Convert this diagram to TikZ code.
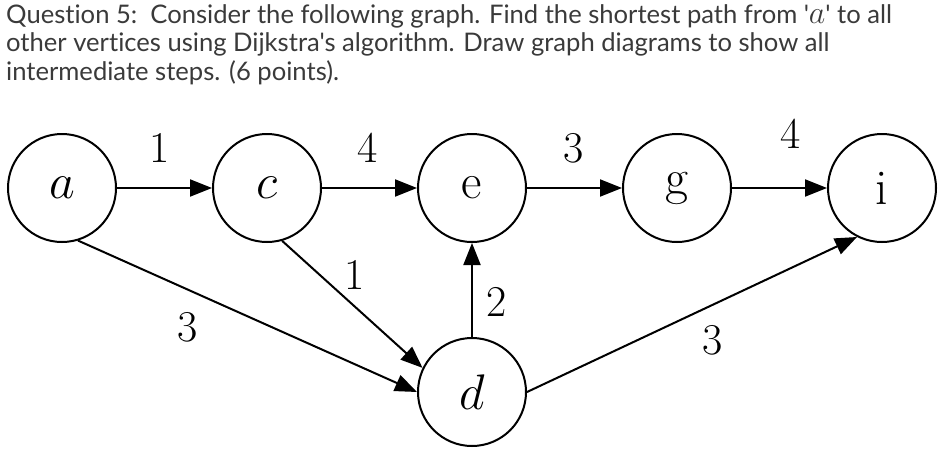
\RequirePackage{fix-cm}
\documentclass[tikz,border=0pt]{standalone}
\usepackage{fontspec}
\newfontfamily\lato[Ligatures={NoCommon}]{Lato}
\usetikzlibrary{arrows.meta}
\definecolor{hdr}{HTML}{3A3A3A}
\tikzset{
  vtx/.style={circle,draw,line width=2pt,minimum size=108pt,inner sep=0pt,font=\fontsize{50}{50}\selectfont},
  arr/.style={line width=2pt,-{Triangle[length=22pt,width=17pt]}},
  lbl/.style={inner sep=0pt,font=\fontsize{44}{44}\selectfont},
  hdrtext/.style={anchor=north west,inner sep=0pt,align=left,text=hdr,font=\lato\fontsize{25.6}{28.5}\selectfont}
}
\begin{document}
\begin{tikzpicture}[x=1pt,y=-1pt]
\useasboundingbox (0,0) rectangle (942,453);
\node[hdrtext] (q) at (6,4) {Question 5:\ \ Consider the following graph. Find the shortest path from '{\fontsize{32}{30}\selectfont$a$}' to all\\other vertices using Dijkstra's algorithm. Draw graph diagrams to show all\\intermediate steps. (6 points).};
\node[vtx] (a) at (62,188) {$a$};
\node[vtx] (c) at (267,188) {$c$};
\node[vtx] (e) at (472,188) {e};
\node[vtx] (g) at (677,188) {g};
\node[vtx] (i) at (882,188) {i};
\node[vtx] (d) at (472,392) {$d$};
\draw[arr] (a.east) -- (c.west);
\draw[arr] (c.east) -- (e.west);
\draw[arr] (e.east) -- (g.west);
\draw[arr] (g.east) -- (i.west);
\draw[arr] (a.-73) -- (d.west);
\draw[arr] (c.-74) -- (d.154);
\draw[arr] (d.north) -- (e.south);
\draw[arr] (d.east) -- (i.-117);
\node[lbl] (l1) at (160,148) {1};
\node[lbl] (l2) at (368,148) {4};
\node[lbl] (l3) at (574,148) {3};
\node[lbl] (l4) at (791,134) {4};
\node[lbl] (l5) at (355,275) {1};
\node[lbl] (l6) at (497,302) {2};
\node[lbl] (l7) at (188,327) {3};
\node[lbl] (l8) at (713,340) {3};
\end{tikzpicture}
\end{document}
